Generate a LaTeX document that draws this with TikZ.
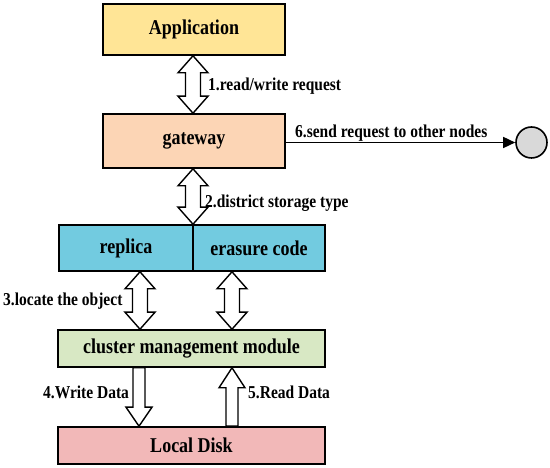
\documentclass[tikz,border=0pt]{standalone}
\usepackage{graphicx}
\usepackage{fontspec}
\setmainfont{Liberation Serif}
\usetikzlibrary{calc,arrows.meta}
\definecolor{appc}{RGB}{255,229,150}
\definecolor{gwc}{RGB}{252,213,181}
\definecolor{repc}{RGB}{114,203,224}
\definecolor{clc}{RGB}{216,232,196}
\definecolor{diskc}{RGB}{242,184,184}
\definecolor{circc}{RGB}{217,217,217}
\newcommand\vst[1]{\scalebox{1}[1.17]{#1}}
\tikzset{
  box/.style={draw=black, line width=1.6pt, inner sep=0pt, font=\fontsize{18}{20}\selectfont\bfseries},
  lbl/.style={font=\fontsize{15.5}{17}\selectfont\bfseries, inner sep=0pt},
  fat/.style={draw=black, fill=white, line width=1.4pt, line join=miter},
}
\newcommand\fatdbl[2]{%
  \draw[fat] let \p1=(#1), \p2=(#2) in
    (\x1,\y1) -- (\x1+15pt,\y1-17pt) -- (\x1+7.5pt,\y1-17pt) -- (\x1+7.5pt,\y2+17pt)
    -- (\x1+15pt,\y2+17pt) -- (\x1,\y2) -- (\x1-15pt,\y2+17pt) -- (\x1-7.5pt,\y2+17pt)
    -- (\x1-7.5pt,\y1-17pt) -- (\x1-15pt,\y1-17pt) -- cycle;}
\newcommand\fatdown[2]{%
  \draw[fat] let \p1=(#1), \p2=(#2) in
    (\x1-6pt,\y1) -- (\x1+6pt,\y1) -- (\x1+6pt,\y2+19pt) -- (\x1+13pt,\y2+19pt)
    -- (\x1,\y2) -- (\x1-13pt,\y2+19pt) -- (\x1-6pt,\y2+19pt) -- cycle;}
\newcommand\fatup[2]{%
  \draw[fat] let \p1=(#1), \p2=(#2) in
    (\x1,\y1) -- (\x1+13pt,\y1-20pt) -- (\x1+6pt,\y1-20pt) -- (\x1+6pt,\y2)
    -- (\x1-6pt,\y2) -- (\x1-6pt,\y1-20pt) -- (\x1-13pt,\y1-20pt) -- cycle;}
\begin{document}
\begin{tikzpicture}[x=1pt,y=1pt]
\useasboundingbox (0,0) rectangle (550,468);
% boxes
\node[box, fill=appc, minimum width=182pt, minimum height=51pt] (app) at (194,438.5) {\vst{Application}};
\node[box, fill=gwc, minimum width=182pt, minimum height=54pt] (gw) at (194,327) {\vst{gateway}};
\node[box, fill=repc, minimum width=134pt, minimum height=46pt] (rep) at (126,220) {\vst{replica}};
\node[box, fill=repc, minimum width=132pt, minimum height=46pt] (era) at (259,220) {\vst{erasure code}};
\node[box, fill=clc, minimum width=267pt, minimum height=37pt] (cl) at (191.5,119.5) {\vst{cluster management module}};
\node[box, fill=diskc, minimum width=267pt, minimum height=37pt] (disk) at (191.5,22.5) {\vst{Local Disk}};
\node[draw=black, line width=1.6pt, fill=circc, circle, minimum size=31pt, inner sep=0pt] (circ) at (531.5,325.5) {};
% anchor coordinates
\coordinate (a1t) at (193,0 |- app.south);
\coordinate (a1b) at (193,0 |- gw.north);
\coordinate (a2t) at (193,0 |- gw.south);
\coordinate (a2b) at (193,0 |- rep.north);
\coordinate (a3t) at (140,0 |- rep.south);
\coordinate (a3b) at (140,0 |- cl.north);
\coordinate (a3rt) at (232,0 |- era.south);
\coordinate (a3rb) at (232,0 |- cl.north);
\coordinate (a4t) at (139,0 |- cl.south);
\coordinate (a4b) at (139,0 |- disk.north);
\coordinate (a5t) at (232,0 |- cl.south);
\coordinate (a5b) at (232,0 |- disk.north);
% fat arrows
\fatdbl{a1t}{a1b}
\fatdbl{a2t}{a2b}
\fatdbl{a3t}{a3b}
\fatdbl{a3rt}{a3rb}
\fatdown{a4t}{a4b}
\fatup{a5t}{a5b}
% send arrow
\draw[line width=1.5pt, -{Triangle[length=12pt,width=11pt]}] (gw.east |- circ.west) -- (circ.west);
% labels
\node[lbl, anchor=west] (l1) at (208,382) {\vst{1.read/write request}};
\node[lbl, anchor=west] (l2) at (205,265) {\vst{2.district storage type}};
\node[lbl, anchor=west] (l3) at (3,167) {\vst{3.locate the object}};
\node[lbl, anchor=west] (l4) at (43,76) {\vst{4.Write Data}};
\node[lbl, anchor=west] (l5) at (248,76) {\vst{5.Read Data}};
\node[lbl, anchor=west] (l6) at (295,335) {\vst{6.send request to other nodes}};
\end{tikzpicture}
\end{document}
